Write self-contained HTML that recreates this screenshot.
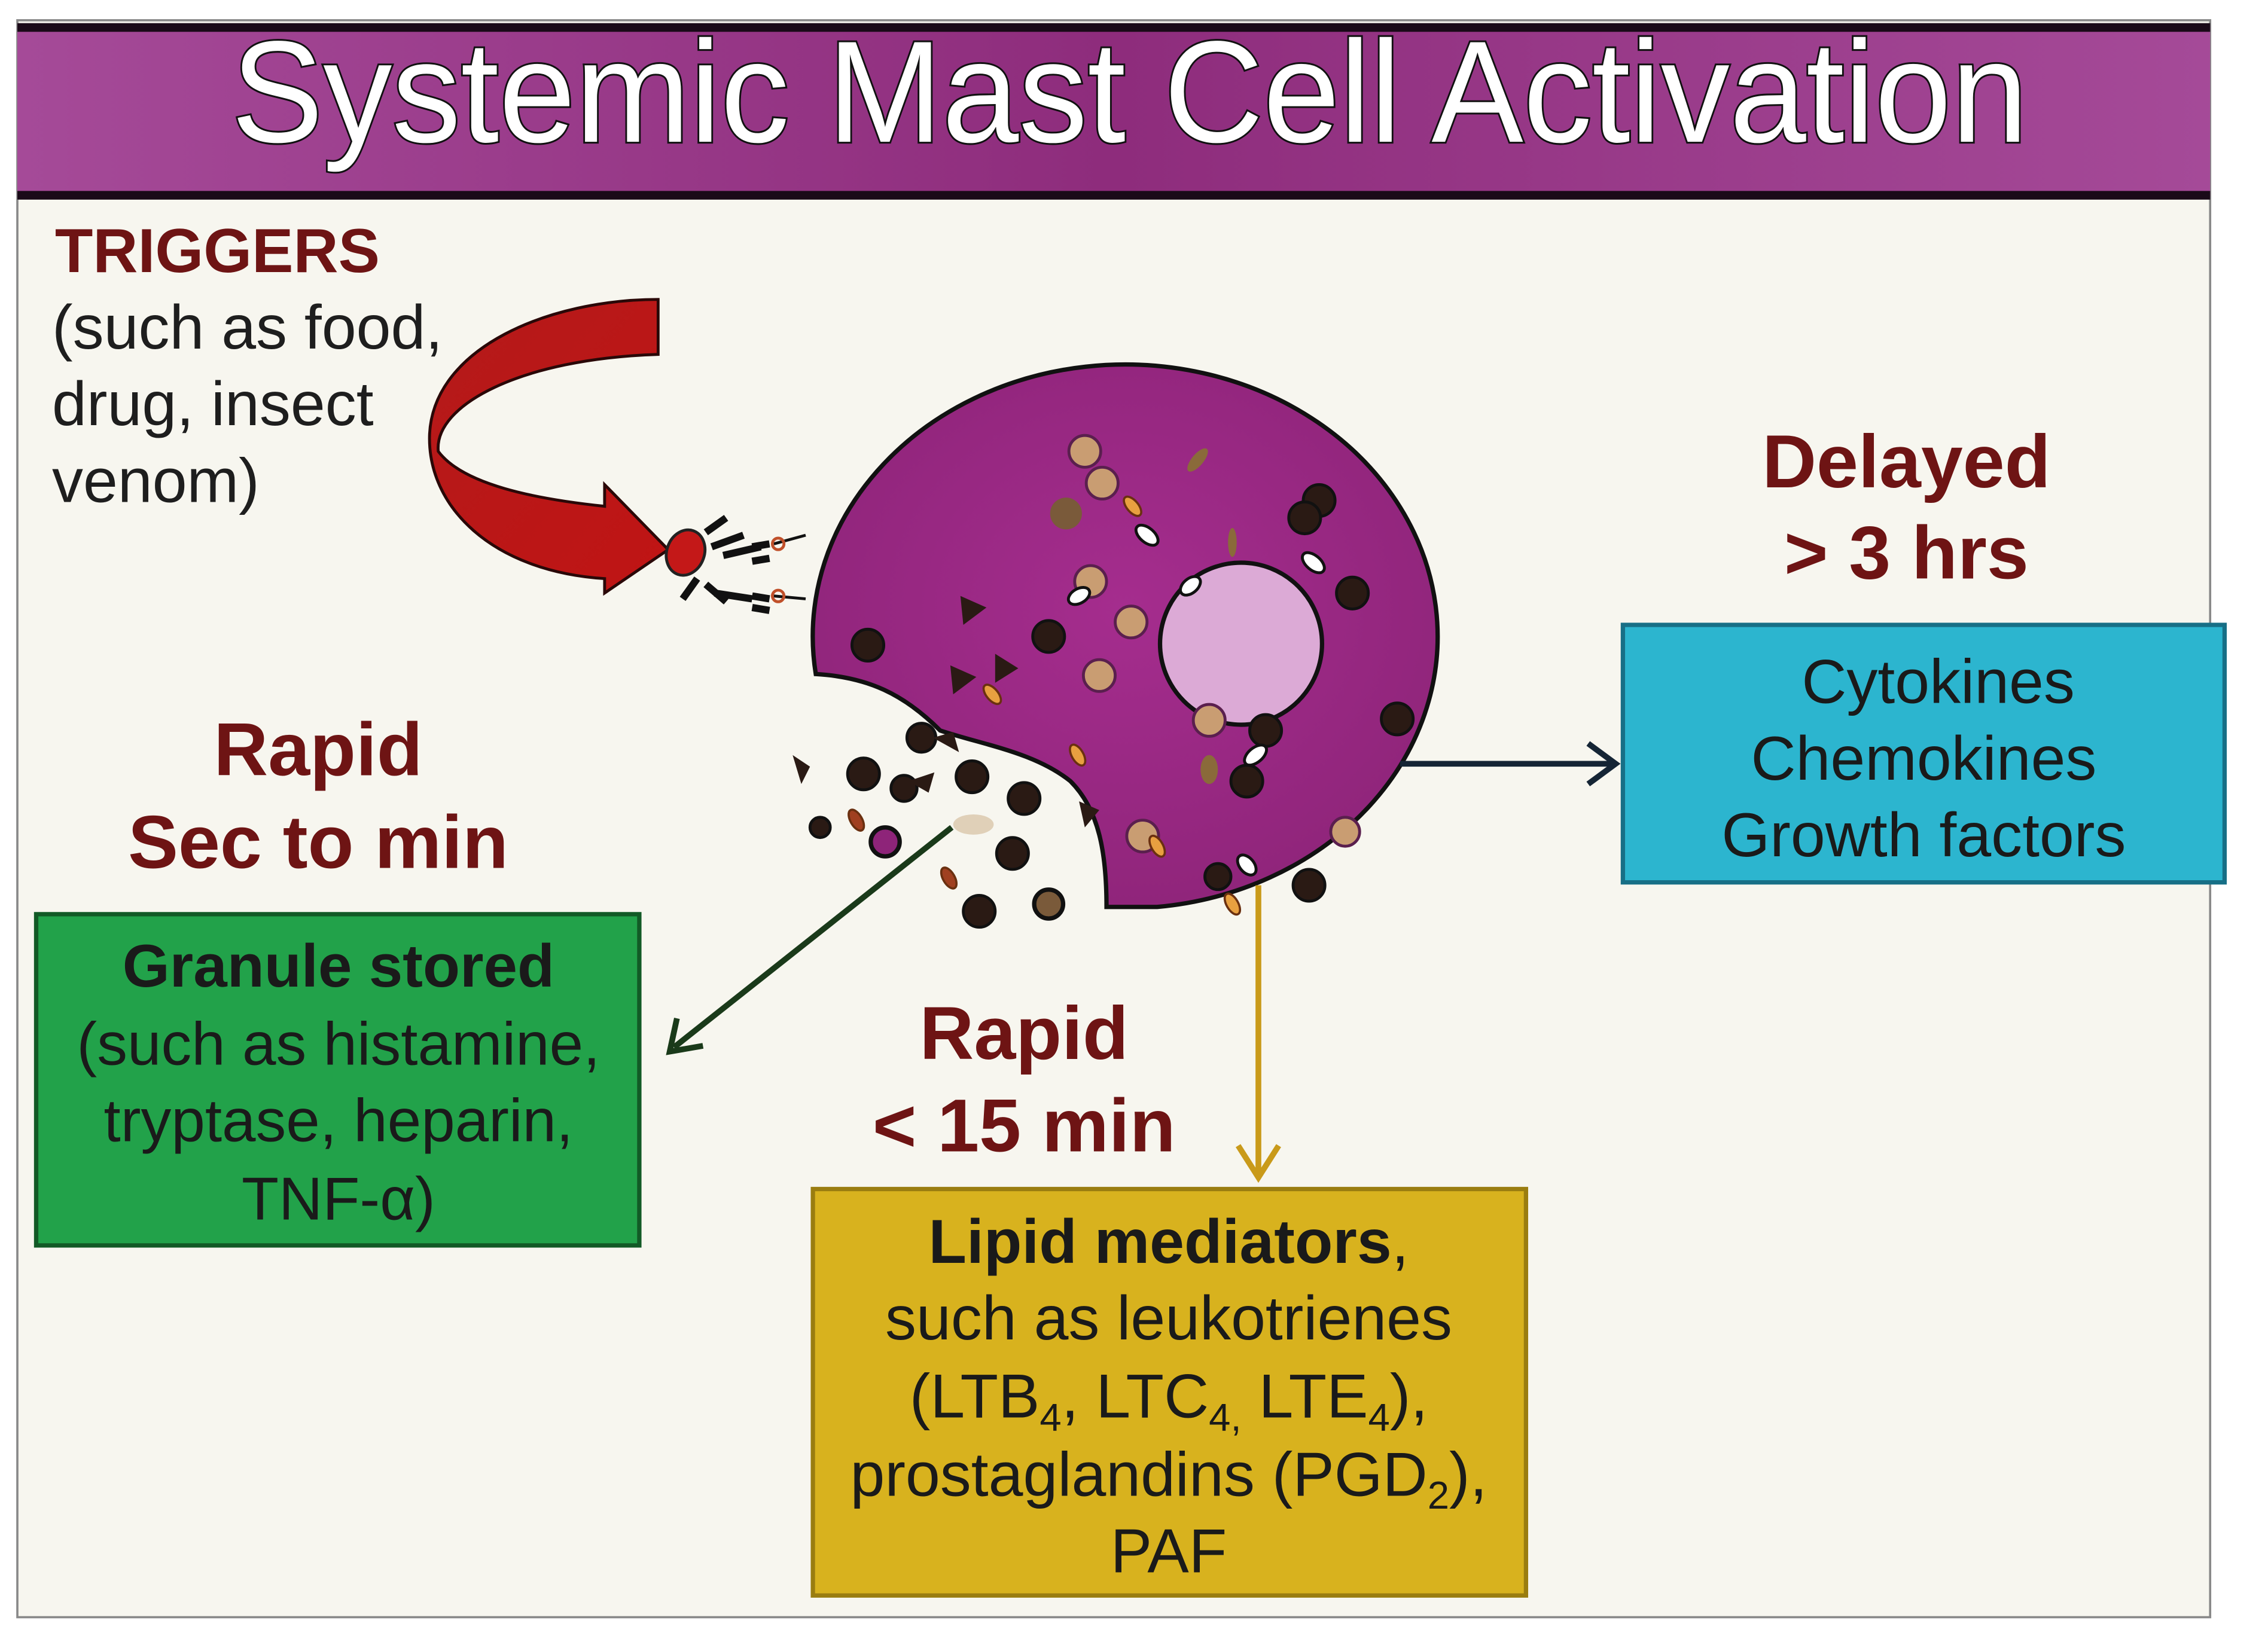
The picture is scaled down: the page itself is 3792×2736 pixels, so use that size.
<!DOCTYPE html>
<html><head><meta charset="utf-8">
<style>
html,body{margin:0;padding:0;background:#fff;}
svg{display:block;}
text{font-family:"Liberation Sans",sans-serif;}
</style></head>
<body>
<svg width="3792" height="2736" viewBox="0 0 1568 1131" preserveAspectRatio="none" xmlns="http://www.w3.org/2000/svg">
<defs>
<linearGradient id="tg" x1="0" y1="0" x2="1" y2="0">
<stop offset="0" stop-color="#a54a98"/><stop offset="0.5" stop-color="#8e2c7c"/><stop offset="1" stop-color="#a54a98"/>
</linearGradient>
<radialGradient id="cg" cx="0.5" cy="0.45" r="0.6">
<stop offset="0" stop-color="#a52d8e"/><stop offset="1" stop-color="#8e2479"/>
</radialGradient>
<linearGradient id="rg" x1="0" y1="0" x2="1" y2="1">
<stop offset="0" stop-color="#b41a1a"/><stop offset="1" stop-color="#c01414"/>
</linearGradient>
</defs>
<rect x="0" y="0" width="1568" height="1131" fill="#fff"/>
<rect x="12" y="14" width="1516" height="1104" fill="#f7f6ef" stroke="#888" stroke-width="1.5"/>
<!-- title -->
<rect x="12" y="18" width="1516" height="118" fill="url(#tg)"/>
<rect x="12" y="16" width="1516" height="6" fill="#1a0a18"/>
<rect x="12" y="132" width="1516" height="6" fill="#1a0a18"/>
<text x="160" y="98" font-size="100" fill="#fff" stroke="#111" stroke-width="2.5" paint-order="stroke" textLength="1242" lengthAdjust="spacingAndGlyphs">Systemic Mast Cell Activation</text>

<!-- triggers -->
<text x="38" y="188" font-size="43" font-weight="bold" fill="#6e1414">TRIGGERS</text>
<g font-size="43" fill="#1e1e1e">
<text x="36" y="241">(such as food,</text>
<text x="36" y="294">drug, insect</text>
<text x="36" y="347">venom)</text>
</g>
<path d="M455,207 L455,245 C360,248 300,280 303,312 C320,335 370,345 418,350 L418,335 L462,380 L418,410 L418,400 C340,395 295,350 297,300 C300,240 380,207 455,207 Z" fill="url(#rg)" stroke="#2a0808" stroke-width="2"/>

<!-- receptors -->
<ellipse cx="474" cy="382" rx="13" ry="16" fill="#c41818" stroke="#222" stroke-width="2" transform="rotate(20 474 382)"/>
<g stroke="#111" stroke-width="5" fill="none">
<path d="M488,368 l14,-10 M492,378 l22,-8 M500,384 l26,-6"/>
<path d="M482,400 l-10,14 M488,404 l14,12 M494,410 l26,4"/>
<path d="M520,378 l12,-2 M520,388 l12,-2"/>
<path d="M520,412 l12,2 M520,420 l12,2"/>
</g>
<path d="M535,376 l22,-6 M535,412 l22,2" stroke="#111" stroke-width="2"/>
<circle cx="538" cy="376" r="4" fill="none" stroke="#c0502a" stroke-width="2"/>
<circle cx="538" cy="412" r="4" fill="none" stroke="#c0502a" stroke-width="2"/>

<!-- cell -->
<path d="M564,466 A216 188 0 1 1 800,627 L765,627 C765,590 760,560 740,540 C715,520 680,515 650,505 C625,480 600,468 564,466 Z" fill="url(#cg)" stroke="#111" stroke-width="3"/>
<circle cx="858" cy="445" r="56" fill="#dcaad6" stroke="#111" stroke-width="3"/>
<!-- granules tan -->
<g fill="#c99d72" stroke="#5a1f4e" stroke-width="2">
<circle cx="750" cy="312" r="11"/><circle cx="762" cy="334" r="11"/><circle cx="754" cy="402" r="11"/>
<circle cx="782" cy="430" r="11"/><circle cx="760" cy="467" r="11"/><circle cx="836" cy="498" r="11"/>
<circle cx="790" cy="578" r="11"/><circle cx="930" cy="575" r="10"/>
</g>
<!-- dark granules -->
<g fill="#2a1a14" stroke="#111" stroke-width="2">
<circle cx="912" cy="346" r="11"/><circle cx="902" cy="358" r="11"/><circle cx="935" cy="410" r="11"/>
<circle cx="725" cy="440" r="11"/><circle cx="600" cy="446" r="11"/><circle cx="875" cy="505" r="11"/>
<circle cx="862" cy="540" r="11"/><circle cx="966" cy="497" r="11"/><circle cx="905" cy="612" r="11"/>
<circle cx="637" cy="510" r="10"/><circle cx="597" cy="535" r="11"/><circle cx="625" cy="545" r="9"/>
<circle cx="567" cy="572" r="7"/><circle cx="700" cy="590" r="11"/>
<circle cx="672" cy="537" r="11"/><circle cx="708" cy="552" r="11"/><circle cx="677" cy="630" r="11"/>
<circle cx="842" cy="606" r="9"/>
</g>
<circle cx="725" cy="625" r="10" fill="#7a5a3a" stroke="#111" stroke-width="3"/>
<circle cx="612" cy="582" r="10" fill="#8e2479" stroke="#111" stroke-width="3"/>
<circle cx="737" cy="355" r="11" fill="#7a5a3a"/>
<g fill="#2a1a14">
<path d="M664,412 l18,8 l-16,12 z"/><path d="M657,460 l18,8 l-16,12 z"/><path d="M688,452 l16,10 l-16,10 z"/>
<path d="M548,522 l12,8 l-6,12 z"/><path d="M628,540 l18,-6 l-4,14 z"/><path d="M645,510 l14,-4 l4,14 z"/>
<path d="M746,554 l14,6 l-10,12 z"/>
</g>
<g fill="#fff" stroke="#111" stroke-width="2">
<ellipse cx="793" cy="370" rx="9" ry="5" transform="rotate(40 793 370)"/>
<ellipse cx="746" cy="412" rx="8" ry="5" transform="rotate(-30 746 412)"/>
<ellipse cx="908" cy="389" rx="9" ry="5" transform="rotate(40 908 389)"/>
<ellipse cx="823" cy="405" rx="8" ry="5" transform="rotate(-40 823 405)"/>
<ellipse cx="868" cy="522" rx="9" ry="5" transform="rotate(-40 868 522)"/>
<ellipse cx="862" cy="598" rx="8" ry="5" transform="rotate(50 862 598)"/>
</g>
<g fill="#e8a040" stroke="#6a3010" stroke-width="1.5">
<ellipse cx="783" cy="350" rx="8" ry="4" transform="rotate(50 783 350)"/>
<ellipse cx="686" cy="480" rx="8" ry="4" transform="rotate(50 686 480)"/>
<ellipse cx="745" cy="522" rx="8" ry="4" transform="rotate(60 745 522)"/>
<ellipse cx="800" cy="585" rx="8" ry="4" transform="rotate(60 800 585)"/>
<ellipse cx="852" cy="625" rx="8" ry="4" transform="rotate(60 852 625)"/>
<ellipse cx="592" cy="567" rx="8" ry="4" transform="rotate(60 592 567)" fill="#a04020"/>
<ellipse cx="656" cy="607" rx="8" ry="4" transform="rotate(60 656 607)" fill="#a04020"/>
</g>
<ellipse cx="828" cy="318" rx="4" ry="10" fill="#8a6a3a" transform="rotate(40 828 318)"/>
<ellipse cx="852" cy="375" rx="3" ry="10" fill="#8a6a3a"/>
<ellipse cx="836" cy="532" rx="6" ry="10" fill="#8a6a3a"/>
<ellipse cx="673" cy="570" rx="14" ry="7" fill="#e0d0b8"/>

<!-- arrows -->
<line x1="968" y1="528" x2="1114" y2="528" stroke="#152535" stroke-width="4"/>
<path d="M1098,514 L1117,528 L1098,542" fill="none" stroke="#152535" stroke-width="4"/>
<line x1="658" y1="572" x2="466" y2="724" stroke="#1a3a1a" stroke-width="4"/>
<path d="M468,704 L463,727 L486,723" fill="none" stroke="#1a3a1a" stroke-width="4"/>
<line x1="870" y1="612" x2="870" y2="812" stroke="#c99a1a" stroke-width="4"/>
<path d="M856,792 L870,814 L884,792" fill="none" stroke="#c99a1a" stroke-width="4"/>

<!-- timing labels -->
<g font-size="52" font-weight="bold" fill="#6e1414" text-anchor="middle">
<text x="1318" y="337">Delayed</text>
<text x="1318" y="400">&gt; 3 hrs</text>
<text x="220" y="536">Rapid</text>
<text x="220" y="600">Sec to min</text>
<text x="708" y="732">Rapid</text>
<text x="708" y="796">&lt; 15 min</text>
</g>

<!-- boxes -->
<rect x="1122" y="432" width="416" height="178" fill="#2cb5cf" stroke="#176f86" stroke-width="3"/>
<g font-size="43" fill="#1a1a1a" text-anchor="middle">
<text x="1340" y="486">Cytokines</text>
<text x="1330" y="539">Chemokines</text>
<text x="1330" y="592">Growth factors</text>
</g>
<rect x="25" y="632" width="417" height="229" fill="#22a24a" stroke="#125a26" stroke-width="3"/>
<g font-size="42" fill="#1a1a1a" text-anchor="middle">
<text x="234" y="682" font-weight="bold">Granule stored</text>
<text x="234" y="736">(such as histamine,</text>
<text x="234" y="789">tryptase, heparin,</text>
<text x="234" y="843">TNF-α)</text>
</g>
<rect x="562" y="822" width="493" height="281" fill="#d8b21e" stroke="#9a7d10" stroke-width="3"/>
<g font-size="43" fill="#1a1a1a" text-anchor="middle">
<text x="808" y="873"><tspan font-weight="bold">Lipid mediators</tspan>,</text>
<text x="808" y="926">such as leukotrienes</text>
<text x="808" y="980">(LTB<tspan font-size="27" dy="9">4</tspan><tspan dy="-9">, LTC</tspan><tspan font-size="27" dy="9">4,</tspan><tspan dy="-9"> LTE</tspan><tspan font-size="27" dy="9">4</tspan><tspan dy="-9">),</tspan></text>
<text x="808" y="1034">prostaglandins (PGD<tspan font-size="27" dy="9">2</tspan><tspan dy="-9">),</tspan></text>
<text x="808" y="1087">PAF</text>
</g>
</svg>
</body></html>
